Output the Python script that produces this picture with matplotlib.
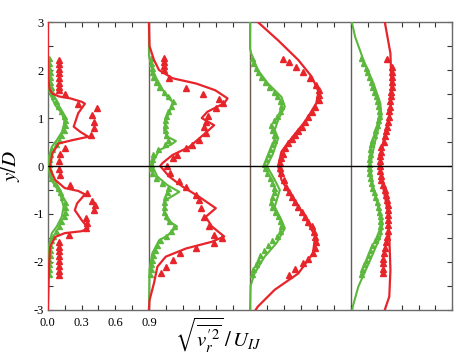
import matplotlib
matplotlib.use("Agg")
import matplotlib.pyplot as plt
import numpy as np

plt.rcParams['font.family'] = ['Liberation Serif', 'DejaVu Serif']
plt.rcParams['mathtext.fontset'] = 'stix'

RED = '#e8242b'
GREEN = '#5cb83c'
panel_offsets = [0.0, 0.9, 1.8, 2.7]

# ---------------- Panel 1 ----------------
p1_red_line_y = [3.0, 2.2, 1.79, 1.6, 1.51, 1.45, 1.41, 1.34, 1.30, 1.10, 0.82, 0.71, 0.61, 0.54, 0.47, 0.26, 0.0,
                 -0.06, -0.29, -0.46, -0.52, -0.59, -0.78, -0.92, -1.125, -1.30, -1.36, -1.40, -1.48, -1.69, -2.1, -3.0]
p1_red_line_x = [0.0, 0.0, 0.005, 0.015, 0.04, 0.1, 0.2, 0.30, 0.33, 0.27, 0.23, 0.29, 0.36, 0.22, 0.095, 0.04, 0.02,
                 0.02, 0.065, 0.15, 0.27, 0.33, 0.26, 0.24, 0.30, 0.36, 0.30, 0.15, 0.065, 0.02, 0.01, 0.0]
p1_red_exp_y = [2.21, 2.12, 2.02, 1.93, 1.83, 1.74, 1.65, 1.58, 1.51, 1.30, 1.20, 1.06, 0.92, 0.79, 0.65, 0.37, 0.24, 0.11,
                -0.07, -0.19, -0.40, -0.57, -0.74, -0.81, -0.92, -1.09, -1.19, -1.30, -1.44, -1.58, -1.68, -1.78, -1.88,
                -1.98, -2.08, -2.18, -2.27]
p1_red_exp_x = [0.095, 0.1, 0.095, 0.1, 0.095, 0.1, 0.095, 0.1, 0.15, 0.27, 0.44, 0.39, 0.415, 0.41, 0.38, 0.15, 0.11, 0.095,
                0.095, 0.11, 0.2, 0.35, 0.39, 0.42, 0.41, 0.34, 0.35, 0.34, 0.19, 0.095, 0.1, 0.095, 0.1,
                0.095, 0.1, 0.095, 0.1]
p1_green_line_y = [3.0, 2.2, 1.8, 1.6, 1.5, 1.4, 1.27, 1.1, 0.92, 0.71, 0.54, 0.4, 0.2, 0.0,
                   -0.24, -0.36, -0.57, -0.85, -1.05, -1.26, -1.4, -1.68, -2.2, -3.0]
p1_green_line_x = [0.0, 0.0, 0.005, 0.01, 0.02, 0.04, 0.065, 0.125, 0.15, 0.125, 0.08, 0.035, 0.01, 0.005,
                   0.02, 0.05, 0.11, 0.14, 0.125, 0.08, 0.035, 0.01, 0.0, 0.0]

# shared y positions of the green measured points
green_exp_y = [2.25, 2.15, 2.05, 1.95, 1.85, 1.75, 1.65, 1.55, 1.45, 1.35, 1.25, 1.15, 1.05, 0.95, 0.85, 0.75,
               0.65, 0.55, 0.45, 0.35, 0.25, 0.15, 0.05, -0.05, -0.15, -0.25, -0.35, -0.45, -0.55, -0.65, -0.75,
               -0.85, -0.95, -1.05, -1.15, -1.25, -1.35, -1.45, -1.55, -1.65, -1.75, -1.85, -1.95, -2.05, -2.15, -2.25]
p1_green_exp_x = [0.01, 0.01, 0.01, 0.015, 0.015, 0.02, 0.025, 0.035, 0.05, 0.07, 0.09, 0.12, 0.14, 0.15, 0.155, 0.14,
                  0.12, 0.1, 0.07, 0.04, 0.02, 0.01, 0.01, 0.01, 0.015, 0.03, 0.06, 0.09, 0.11, 0.13, 0.15,
                  0.155, 0.15, 0.14, 0.12, 0.1, 0.07, 0.045, 0.03, 0.02, 0.015, 0.015, 0.01, 0.01, 0.01, 0.01]

# ---------------- Panel 2 ----------------
p2_red_line_y = [3.0, 2.5, 2.21, 2.0, 1.83, 1.72, 1.58, 1.41, 1.31, 1.13, 1.0, 0.85, 0.68, 0.40, 0.23, 0.06, 0.0,
                 -0.22, -0.43, -0.64, -0.88, -1.06, -1.26, -1.47, -1.58, -1.72, -1.89, -2.10, -2.44, -2.8, -3.0]
p2_red_line_x = [0.0, 0.005, 0.045, 0.09, 0.21, 0.42, 0.59, 0.70, 0.67, 0.52, 0.47, 0.58, 0.50, 0.36, 0.21, 0.12, 0.10,
                 0.18, 0.30, 0.445, 0.595, 0.505, 0.56, 0.67, 0.56, 0.33, 0.15, 0.075, 0.045, 0.005, 0.0]
p2_red_exp_y = [2.25, 2.17, 2.08, 2.0, 1.83, 1.62, 1.51, 1.39, 1.31, 1.20, 1.05, 0.92, 0.82, 0.68, 0.54, 0.44, 0.37,
                0.23, 0.16, -0.01, -0.15, -0.32, -0.44, -0.60, -0.71, -0.88, -1.06, -1.26, -1.44, -1.51, -1.61,
                -1.72, -1.82, -1.96, -2.10, -2.24]
p2_red_exp_x = [0.135, 0.135, 0.135, 0.135, 0.18, 0.33, 0.48, 0.62, 0.66, 0.60, 0.53, 0.505, 0.49, 0.505, 0.445, 0.385, 0.33,
                0.25, 0.21, 0.165, 0.19, 0.27, 0.33, 0.42, 0.445, 0.46, 0.49, 0.535, 0.58, 0.65, 0.58,
                0.42, 0.28, 0.21, 0.15, 0.11]
p2_green_line_y = [3.0, 2.3, 2.0, 1.79, 1.48, 1.31, 1.17, 0.96, 0.75, 0.61, 0.52, 0.45, 0.33, 0.125, 0.0,
                   -0.22, -0.40, -0.54, -0.71, -0.92, -1.13, -1.26, -1.45, -1.55, -1.82, -2.16, -3.0]
p2_green_line_x = [0.0, 0.0, 0.03, 0.075, 0.15, 0.22, 0.19, 0.15, 0.135, 0.165, 0.24, 0.2, 0.09, 0.045, 0.03,
                   0.075, 0.165, 0.27, 0.15, 0.135, 0.165, 0.25, 0.165, 0.09, 0.03, 0.005, 0.0]
p2_green_exp_x = [0.015, 0.02, 0.025, 0.03, 0.04, 0.06, 0.09, 0.13, 0.17, 0.21, 0.2, 0.17, 0.15, 0.14, 0.14, 0.14,
                  0.15, 0.17, 0.14, 0.08, 0.04, 0.025, 0.02, 0.02, 0.03, 0.06, 0.12, 0.17, 0.16, 0.14, 0.13,
                  0.13, 0.135, 0.15, 0.18, 0.22, 0.2, 0.15, 0.1, 0.07, 0.05, 0.035, 0.025, 0.02, 0.015, 0.01]

# ---------------- Panel 3 ----------------
p3_red_line_y = [3.0, 2.62, 2.21, 1.86, 1.55, 1.31, 0.96, 0.61, 0.30, 0.0, -0.29, -0.64, -1.06, -1.47, -1.82,
                 -2.24, -2.58, -2.93, -3.0]
p3_red_line_x = [0.07, 0.25, 0.43, 0.55, 0.61, 0.59, 0.50, 0.38, 0.28, 0.25, 0.28, 0.37, 0.49, 0.58, 0.56,
                 0.43, 0.22, 0.07, 0.05]
p3_red_exp_y = [2.24, 2.17, 2.07, 1.96, 1.83, 1.69, 1.58, 1.48, 1.38, 1.24, 1.13, 1.03, 0.92, 0.82, 0.72, 0.65, 0.56,
                0.47, 0.37, 0.26, 0.16, 0.06, -0.05, -0.15, -0.29, -0.43, -0.54, -0.64, -0.75, -0.85, -0.96, -1.06,
                -1.16, -1.26, -1.37, -1.47, -1.58, -1.70, -1.82, -1.93, -2.03, -2.14, -2.27]
p3_red_exp_x = [0.29, 0.35, 0.41, 0.47, 0.53, 0.59, 0.61, 0.615, 0.61, 0.575, 0.55, 0.52, 0.49, 0.46, 0.43, 0.40, 0.37,
                0.34, 0.31, 0.29, 0.275, 0.265, 0.27, 0.28, 0.30, 0.32, 0.345, 0.37, 0.40, 0.43, 0.46, 0.49,
                0.52, 0.55, 0.57, 0.58, 0.585, 0.575, 0.56, 0.52, 0.47, 0.40, 0.35]
p3_green_line_y = [3.0, 2.45, 2.35, 2.0, 1.72, 1.44, 1.24, 0.96, 0.75, 0.58, 0.26, 0.0, -0.29, -0.50, -0.85,
                   -1.13, -1.30, -1.61, -1.89, -2.24, -2.5, -3.0]
p3_green_line_x = [0.0, 0.0, 0.01, 0.07, 0.16, 0.28, 0.31, 0.25, 0.22, 0.25, 0.205, 0.15, 0.22, 0.265, 0.22,
                   0.28, 0.31, 0.235, 0.13, 0.04, 0.005, 0.0]
p3_green_exp_x = [0.02, 0.03, 0.05, 0.07, 0.1, 0.13, 0.17, 0.21, 0.24, 0.27, 0.28, 0.27, 0.24, 0.21, 0.19, 0.2,
                  0.21, 0.21, 0.2, 0.18, 0.16, 0.14, 0.125, 0.13, 0.15, 0.18, 0.2, 0.21, 0.21, 0.2, 0.19,
                  0.2, 0.22, 0.25, 0.27, 0.28, 0.27, 0.24, 0.2, 0.16, 0.12, 0.09, 0.07, 0.05, 0.03, 0.02]

# ---------------- Panel 4 ----------------
p4_red_line_y = [3.0, 2.35, 1.65, 1.10, 0.54, 0.0, -0.5, -0.99, -1.47, -2.17, -2.72, -3.0]
p4_red_line_x = [0.30, 0.35, 0.36, 0.35, 0.29, 0.25, 0.29, 0.33, 0.34, 0.35, 0.34, 0.30]
p4_red_exp_y = [2.24, 2.07, 1.95, 1.85, 1.75, 1.65, 1.55, 1.45, 1.35, 1.24, 1.14, 1.03, 0.92, 0.82, 0.72, 0.62, 0.51,
                0.40, 0.30, 0.20, 0.10, 0.0, -0.10, -0.20, -0.29, -0.40, -0.50, -0.61, -0.71, -0.82, -0.92, -1.03,
                -1.13, -1.24, -1.35, -1.47, -1.58, -1.70, -1.82, -1.93, -2.03, -2.14, -2.24]
p4_red_exp_x = [0.32, 0.36, 0.365, 0.365, 0.36, 0.36, 0.355, 0.355, 0.35, 0.35, 0.34, 0.335, 0.33, 0.32, 0.31, 0.30, 0.29,
                0.27, 0.265, 0.26, 0.26, 0.26, 0.26, 0.265, 0.27, 0.285, 0.30, 0.31, 0.32, 0.325, 0.33, 0.33,
                0.33, 0.33, 0.325, 0.32, 0.31, 0.30, 0.29, 0.285, 0.28, 0.28, 0.28]
p4_green_line_y = [3.0, 2.69, 2.21, 1.72, 1.31, 1.03, 0.68, 0.26, 0.0, -0.36, -0.85, -1.19, -1.47, -1.96,
                   -2.51, -2.93, -3.0]
p4_green_line_x = [0.006, 0.036, 0.11, 0.20, 0.26, 0.27, 0.23, 0.19, 0.17, 0.19, 0.24, 0.28, 0.26, 0.17,
                   0.065, 0.015, 0.01]
p4_green_exp_x = [0.09, 0.11, 0.13, 0.145, 0.16, 0.175, 0.19, 0.205, 0.22, 0.23, 0.24, 0.245, 0.245, 0.24, 0.23, 0.215,
                  0.2, 0.19, 0.18, 0.17, 0.165, 0.16, 0.155, 0.155, 0.16, 0.165, 0.175, 0.185, 0.2, 0.215, 0.23,
                  0.24, 0.25, 0.255, 0.26, 0.255, 0.245, 0.23, 0.21, 0.19, 0.17, 0.15, 0.13, 0.115, 0.1, 0.085]

panels = [
    (p1_red_line_y, p1_red_line_x, p1_red_exp_y, p1_red_exp_x, p1_green_line_y, p1_green_line_x, p1_green_exp_x),
    (p2_red_line_y, p2_red_line_x, p2_red_exp_y, p2_red_exp_x, p2_green_line_y, p2_green_line_x, p2_green_exp_x),
    (p3_red_line_y, p3_red_line_x, p3_red_exp_y, p3_red_exp_x, p3_green_line_y, p3_green_line_x, p3_green_exp_x),
    (p4_red_line_y, p4_red_line_x, p4_red_exp_y, p4_red_exp_x, p4_green_line_y, p4_green_line_x, p4_green_exp_x),
]

x_tick_labels = ['0.0', '0.3', '0.6', '0.9']
y_tick_labels = ['-3', '-2', '-1', '0', '1', '2', '3']

fig = plt.figure(figsize=(4.74, 3.57), dpi=100)
ax = fig.add_axes([0.101, 0.132, 0.853, 0.806])

# panel dividers
for off in panel_offsets[1:]:
    ax.axvline(off, color='#6e5a4e', lw=1.0, zorder=1)
ax.axhline(0, color='black', lw=1.0, zorder=5)

for off, (rly, rlx, rey, rex, gly, glx, gex) in zip(panel_offsets, panels):
    ax.plot(np.array(gex) + off, green_exp_y, linestyle='none', marker='^', ms=3.6,
            color=GREEN, mec=GREEN, zorder=2)
    ax.plot(np.array(glx) + off, gly, color=GREEN, lw=1.5, zorder=3)
    ax.plot(np.array(rex) + off, rey, linestyle='none', marker='^', ms=4.0,
            color=RED, mec=RED, zorder=3)
    ax.plot(np.array(rlx) + off, rly, color=RED, lw=1.6, zorder=4)

ax.set_xlim(0, 3.6)
ax.set_ylim(-3, 3)

xt = [i * 0.15 for i in range(25)]
ax.set_xticks(xt)
labels = []
for i in range(25):
    if i % 2 == 0 and i // 2 < len(x_tick_labels):
        labels.append(x_tick_labels[i // 2])
    else:
        labels.append('')
ax.set_xticklabels(labels)
ax.set_yticks([-3, -2, -1, 0, 1, 2, 3])
ax.set_yticklabels(y_tick_labels)
ax.set_yticks([-2.5, -1.5, -0.5, 0.5, 1.5, 2.5], minor=True)
ax.tick_params(which='both', direction='in', top=True, right=True, length=3.5, width=0.8,
               labelsize=9, color='#333333')
ax.tick_params(axis='x', pad=5)
ax.tick_params(axis='y', pad=3)

for s in ax.spines.values():
    s.set_color('#6a6a6a')
    s.set_linewidth(1.0)

ax.set_ylabel(r'$y/D$', fontsize=15)
ax.yaxis.set_label_coords(-0.065, 0.5)
ax.set_xlabel(r'$\sqrt{\overline{v_r^{\prime 2}}}\,/\,U_{IJ}$', fontsize=15)
ax.xaxis.set_label_coords(0.423, -0.02)
ax.xaxis.label.set_va('top')

fig.savefig('out.png', dpi=100)
